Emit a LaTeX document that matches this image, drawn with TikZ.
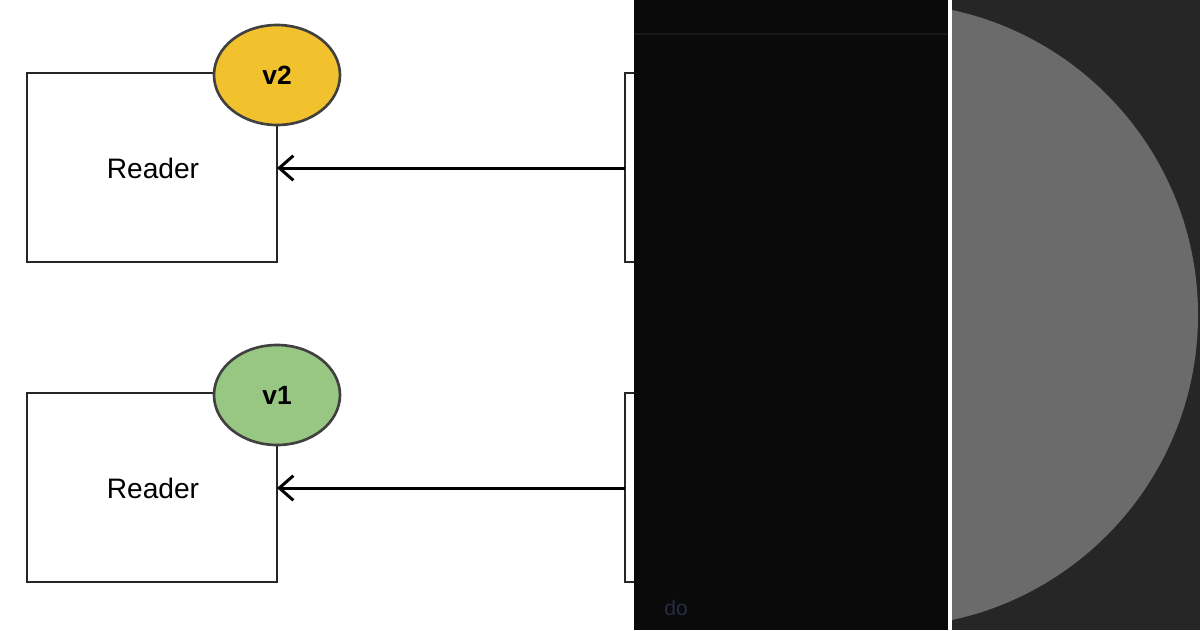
\documentclass[tikz,border=0pt]{standalone}
\usepackage{fontspec}
\setmainfont{Liberation Sans}
\usetikzlibrary{arrows.meta,shapes.geometric}
\begin{document}
\begin{tikzpicture}[x=0.01cm,y=-0.01cm,
  box/.style={draw=black!85,line width=0.75pt,fill=white},
  ver/.style={draw=black!75,line width=0.75pt,ellipse,minimum width=126*0.01cm,minimum height=100*0.01cm,inner sep=0pt,font=\fontsize{7.5}{9}\selectfont\bfseries},
  lbl/.style={font=\fontsize{8}{10}\selectfont},
  conn/.style={line width=0.85pt,->,>={Straight Barb[length=4pt,width=7pt]}}]
\useasboundingbox (0,0) rectangle (1200,630);
\fill[white] (0,0) rectangle (1200,630);
% boxes
\draw[box] (27,73) rectangle (277,262);
\draw[box] (27,393) rectangle (277,582);
\node[lbl] (r2) at (153,168) {Reader};
\node[lbl] (r1) at (153,488) {Reader};
\coordinate (r2e) at (277,168);
\coordinate (r1e) at (277,488);
\draw[box] (625,73) rectangle (700,262);
\draw[box] (625,393) rectangle (700,582);
\coordinate (w2) at (625,168);
\coordinate (w1) at (625,488);
\draw[conn] (w2) -- (r2e);
\draw[conn] (w1) -- (r1e);
\node[ver,fill={rgb,255:red,242;green,193;blue,46}] (v2) at (277,75) {v2};
\node[ver,fill={rgb,255:red,151;green,199;blue,130}] (v1) at (277,395) {v1};
% dark panels
\fill[black!96] (634,0) rectangle (948,630);
\draw[black!90,line width=0.3pt] (634,34) -- (948,34);
\node[text={rgb,255:red,40;green,45;blue,70},font=\fontsize{6}{7}\selectfont,anchor=base west] (dotxt) at (652,615) {do};
\fill[black!85] (952,0) rectangle (1200,630);
\begin{scope}
\clip (952,0) rectangle (1200,630);
\fill[black!58] (886,315) circle (312);
\end{scope}
\end{tikzpicture}
\end{document}
